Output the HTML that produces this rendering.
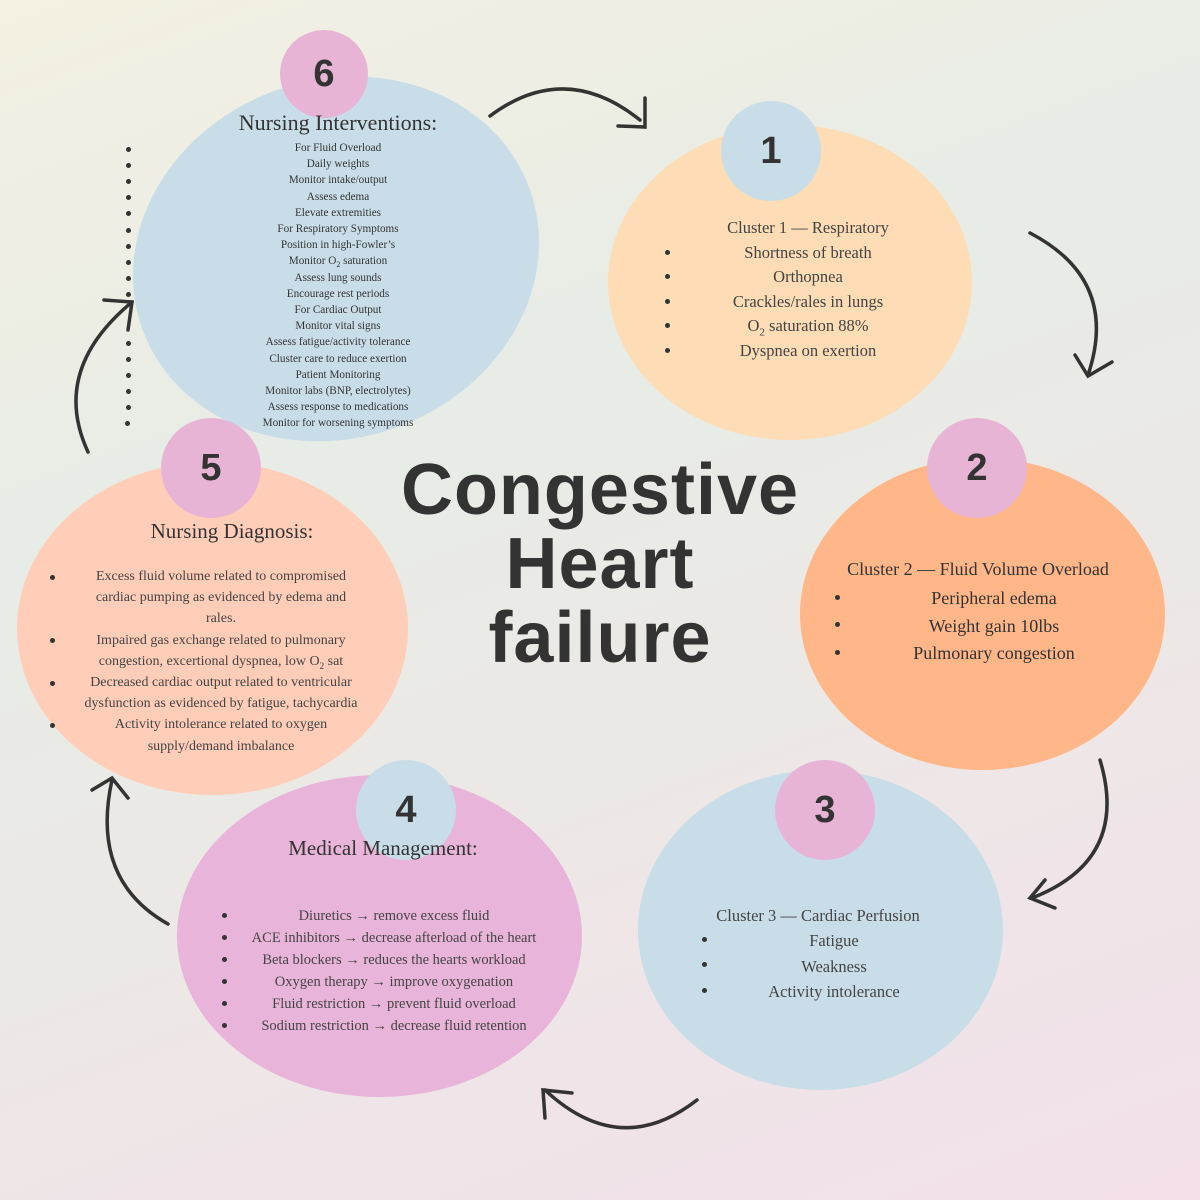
<!DOCTYPE html>
<html><head><meta charset="utf-8"><style>
*{margin:0;padding:0;box-sizing:border-box}
body{width:1200px;height:1200px;overflow:hidden;position:relative;
background:linear-gradient(160deg,#f4f0e2 0%,#e7ece6 35%,#ece8e6 60%,#f3e0ea 100%);
font-family:"Liberation Serif",serif;color:#333}
sub{line-height:0}
.b{position:absolute;border-radius:50%}
.c{position:absolute;border-radius:50%;font-family:"Liberation Sans",sans-serif;font-weight:bold;font-size:38px;color:#333;display:flex;align-items:center;justify-content:center}
.t{position:absolute;white-space:nowrap;transform:translateX(-50%);text-align:center}
.d{position:absolute;width:5px;height:5px;border-radius:50%;background:#333}
.title{position:absolute;left:0;width:1200px;text-align:center;font-family:"Liberation Sans",sans-serif;font-weight:bold;font-size:72px;color:#333;letter-spacing:1px;line-height:74px}
</style></head><body>
<div class="b" style="left:130px;top:80px;width:412px;height:358px;background:#c9dde9;transform:rotate(-20deg)"></div>
<div class="b" style="left:608px;top:125px;width:364px;height:315px;background:#fddcb6"></div>
<div class="b" style="left:800px;top:458px;width:365px;height:312px;background:#ffb688"></div>
<div class="b" style="left:638px;top:770px;width:365px;height:320px;background:#c9dde9"></div>
<div class="b" style="left:177px;top:775px;width:405px;height:322px;background:#e9b4da"></div>
<div class="b" style="left:17px;top:462px;width:391px;height:333px;background:#ffcdb8"></div>

<div class="c" style="left:280px;top:30px;width:88px;height:88px;background:#e8b4d6">6</div>
<div class="c" style="left:721px;top:101px;width:100px;height:100px;background:#c9dde9">1</div>
<div class="c" style="left:927px;top:418px;width:100px;height:100px;background:#e8b4d6">2</div>
<div class="c" style="left:775px;top:760px;width:100px;height:100px;background:#e8b4d6">3</div>
<div class="c" style="left:356px;top:760px;width:100px;height:100px;background:#c9dde9">4</div>
<div class="c" style="left:161px;top:418px;width:100px;height:100px;background:#e8b4d6">5</div>

<div class="title" style="top:453px">Congestive</div>
<div class="title" style="top:527px">Heart</div>
<div class="title" style="top:601px">failure</div>

<svg style="position:absolute;left:0;top:0" width="1200" height="1200" fill="none" stroke="#333" stroke-width="3.5" stroke-linecap="round">
<path d="M490 116 Q565 60 640 120"/><path d="M618 126 L645 127 L645 98"/>
<path d="M1030 233 Q1120 280 1088 375"/><path d="M1075 355 L1088 376 L1112 362"/>
<path d="M1100 760 Q1130 860 1032 898"/><path d="M1045 880 L1030 898 L1055 908"/>
<path d="M697 1100 Q620 1160 545 1090"/><path d="M545 1118 L543 1090 L572 1093"/>
<path d="M168 924 Q90 880 112 780"/><path d="M92 790 L112 778 L128 798"/>
<path d="M88 452 Q50 370 132 302"/><path d="M104 300 L132 302 L128 330"/>
</svg>

<div style="font-size:11.2px;line-height:16.2px">
<div class="t" style="left:338px;top:110px;font-size:22px;line-height:26px">Nursing Interventions:</div>
<div style="position:absolute;left:338px;top:140px;transform:translateX(-50%);text-align:center;white-space:nowrap">
For Fluid Overload<br>Daily weights<br>Monitor intake/output<br>Assess edema<br>Elevate extremities<br>For Respiratory Symptoms<br>Position in high-Fowler’s<br>Monitor O<sub style="font-size:8px">2</sub> saturation<br>Assess lung sounds<br>Encourage rest periods<br>For Cardiac Output<br>Monitor vital signs<br>Assess fatigue/activity tolerance<br>Cluster care to reduce exertion<br>Patient Monitoring<br>Monitor labs (BNP, electrolytes)<br>Assess response to medications<br>Monitor for worsening symptoms</div>
</div>

<div style="position:absolute;left:808px;top:216px;transform:translateX(-50%);text-align:center;white-space:nowrap;font-size:16.5px;line-height:24.6px;color:#444">Cluster 1 — Respiratory<br>Shortness of breath<br>Orthopnea<br>Crackles/rales in lungs<br>O<sub style="font-size:11px">2</sub> saturation 88%<br>Dyspnea on exertion</div>

<div class="t" style="left:978px;top:558px;font-size:18px;line-height:22px">Cluster 2 — Fluid Volume Overload</div>
<div style="position:absolute;left:994px;top:585px;transform:translateX(-50%);text-align:center;white-space:nowrap;font-size:18px;line-height:27.5px">Peripheral edema<br>Weight gain 10lbs<br>Pulmonary congestion</div>

<div style="position:absolute;left:818px;top:903px;transform:translateX(-50%);text-align:center;white-space:nowrap;font-size:16.5px;line-height:25.5px;color:#444">Cluster 3 — Cardiac Perfusion</div>
<div style="position:absolute;left:834px;top:928px;transform:translateX(-50%);text-align:center;white-space:nowrap;font-size:16.5px;line-height:25.5px;color:#444">Fatigue<br>Weakness<br>Activity intolerance</div>

<div class="t" style="left:383px;top:835px;font-size:21px;line-height:26px">Medical Management:</div>
<div style="position:absolute;left:394px;top:905px;transform:translateX(-50%);text-align:center;white-space:nowrap;font-size:14.5px;line-height:22px;color:#444">Diuretics → remove excess fluid<br>ACE inhibitors → decrease afterload of the heart<br>Beta blockers → reduces the hearts workload<br>Oxygen therapy → improve oxygenation<br>Fluid restriction → prevent fluid overload<br>Sodium restriction → decrease fluid retention</div>

<div class="t" style="left:232px;top:518px;font-size:21px;line-height:26px">Nursing Diagnosis:</div>
<div style="position:absolute;left:221px;top:566px;transform:translateX(-50%);text-align:center;white-space:nowrap;font-size:14px;line-height:21.2px;color:#444">Excess fluid volume related to compromised<br>cardiac pumping as evidenced by edema and<br>rales.<br>Impaired gas exchange related to pulmonary<br>congestion, excertional dyspnea, low O<sub style="font-size:9px">2</sub> sat<br>Decreased cardiac output related to ventricular<br>dysfunction as evidenced by fatigue, tachycardia<br>Activity intolerance related to oxygen<br>supply/demand imbalance</div>

<div class="d" style="left:126px;top:147px"></div><div class="d" style="left:126px;top:163px"></div><div class="d" style="left:126px;top:179px"></div><div class="d" style="left:126px;top:195px"></div><div class="d" style="left:126px;top:211px"></div><div class="d" style="left:126px;top:228px"></div><div class="d" style="left:126px;top:244px"></div><div class="d" style="left:126px;top:260px"></div><div class="d" style="left:126px;top:276px"></div><div class="d" style="left:126px;top:292px"></div><div class="d" style="left:126px;top:341px"></div><div class="d" style="left:126px;top:357px"></div><div class="d" style="left:126px;top:373px"></div><div class="d" style="left:126px;top:389px"></div><div class="d" style="left:126px;top:405px"></div><div class="d" style="left:125px;top:421px"></div>
<div class="d" style="left:665px;top:250px"></div><div class="d" style="left:665px;top:274px"></div><div class="d" style="left:665px;top:299px"></div><div class="d" style="left:665px;top:323px"></div><div class="d" style="left:665px;top:348px"></div>
<div class="d" style="left:835px;top:595px"></div><div class="d" style="left:835px;top:622px"></div><div class="d" style="left:835px;top:650px"></div>
<div class="d" style="left:702px;top:937px"></div><div class="d" style="left:702px;top:962px"></div><div class="d" style="left:702px;top:988px"></div>
<div class="d" style="left:222px;top:913px"></div><div class="d" style="left:222px;top:935px"></div><div class="d" style="left:222px;top:957px"></div><div class="d" style="left:222px;top:979px"></div><div class="d" style="left:222px;top:1001px"></div><div class="d" style="left:222px;top:1023px"></div>
<div class="d" style="left:50px;top:575px"></div><div class="d" style="left:50px;top:638px"></div><div class="d" style="left:50px;top:681px"></div><div class="d" style="left:50px;top:723px"></div>
</body></html>
